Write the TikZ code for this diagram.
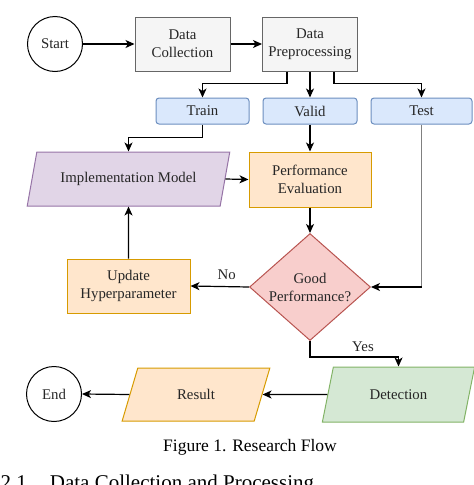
\documentclass[tikz,border=0pt]{standalone}
\usepackage[dvipsnames]{xcolor}
\usepackage{tikz,amsmath}
\usepackage{fontspec}
\setmainfont{Liberation Serif}
\usetikzlibrary{shapes,calc,positioning,arrows,arrows.meta}

% Box colours
\definecolor{GrayFill}{HTML}{F5F5F5}
\definecolor{GrayLine}{HTML}{666666}
\definecolor{BlueFill}{HTML}{DAE8FC}
\definecolor{BlueLine}{HTML}{6C8EBF}
\definecolor{OrangeFill}{HTML}{FFE6CC}
\definecolor{OrangeLine}{HTML}{D79B00}
\definecolor{PurpleFill}{HTML}{E1D5E7}
\definecolor{PurpleLine}{HTML}{9673A6}
\definecolor{RedFill}{HTML}{F8CECC}
\definecolor{RedLine}{HTML}{B85450}
\definecolor{GreenFill}{HTML}{D5E8D4}
\definecolor{GreenLine}{HTML}{82B366}

\tikzset{
  txt/.style={font=\fontsize{14.8}{18}\selectfont,align=center,text=black!85},
  terminal/.style={txt,circle,draw,line width=1pt,minimum size=55pt,inner sep=0pt},
  stepbox/.style={txt,rectangle,draw,line width=1pt,inner sep=0pt},
  splitbox/.style={stepbox,rounded corners=3pt,fill=BlueFill,draw=BlueLine,minimum height=26pt},
  iobox/.style={txt,trapezium,draw,line width=1pt,trapezium stretches=true,inner sep=0pt},
  arr/.style={line width=1.2pt,->},
}

\begin{document}
\begin{tikzpicture}[x=1pt,y=-1pt,>={Stealth[length=9pt,width=8pt,inset=2.5pt]}]
\useasboundingbox (0,0) rectangle (474,485);

% Top row
\node[terminal] (start) at (55,44) {Start};
\node[stepbox,fill=GrayFill,draw=GrayLine,minimum width=95pt,minimum height=54pt] (collect) at (182.5,44) {Data\\Collection};
\node[stepbox,fill=GrayFill,draw=GrayLine,minimum width=95pt,minimum height=54pt] (prep) at (310,44) {Data\\Preprocessing};

% Data split
\node[splitbox,minimum width=93pt] (train) at (202.5,111) {Train};
\node[splitbox,minimum width=94pt] (valid) at (310,111) {Valid};
\node[splitbox,minimum width=101pt] (test) at (421.5,111) {Test};

% Training loop
\node[iobox,fill=PurpleFill,draw=PurpleLine,trapezium left angle=62,trapezium right angle=118,minimum width=203pt,minimum height=54pt] (impl) at (128.5,179) {Implementation Model};
\node[stepbox,fill=OrangeFill,draw=OrangeLine,minimum width=122pt,minimum height=55pt] (perf) at (310,179.5) {Performance\\Evaluation};
\node[txt,diamond,draw,line width=1pt,fill=RedFill,draw=RedLine,inner sep=0pt,shape aspect=1.13,minimum width=121pt,minimum height=107pt] (good) at (310,287) {Good\\Performance?};
\node[stepbox,fill=OrangeFill,draw=OrangeLine,minimum width=123pt,minimum height=54pt] (update) at (128.5,286) {Update\\Hyperparameter};

% Bottom row
\node[iobox,fill=GreenFill,draw=GreenLine,trapezium left angle=64,trapezium right angle=116,minimum width=153pt,minimum height=55pt] (detect) at (398.5,394.5) {Detection};
\node[iobox,fill=OrangeFill,draw=OrangeLine,trapezium left angle=64,trapezium right angle=116,minimum width=148pt,minimum height=53pt] (result) at (196,394.5) {Result};
\node[terminal] (end) at (54,394) {End};

% Connectors
\draw[arr] (start) -- (collect);
\draw[arr] (collect) -- (prep);
\draw[arr] ([xshift=-23pt]prep.south) -- ++(0,12) -| (train.north);
\draw[arr] (prep.south) -- (valid.north);
\draw[arr] ([xshift=24pt]prep.south) -- ++(0,12) -| (test.north);
\draw[arr] (train.south) -- ++(0,13) -| (impl.north);
\draw[arr] (valid) -- (perf);
\draw[arr] (impl.east) -- (perf.west);
\draw[arr] (perf) -- (good);
\draw[line width=1.2pt,gray] (test.south) -- (test.south |- good.east) coordinate (bend);
\draw[arr] (bend) -- (good.east);
\draw[arr] (good.west) -- (update.east) node[txt,pos=0.38,above=3pt] (no) {No};
\draw[arr] (update) -- (impl.south);
\draw[arr] (good.south) -- ++(0,16) coordinate (turn) -| (detect.north);
\node[txt,above=2pt] (yes) at ($(turn)+(53,0)$) {Yes};
\draw[arr] (detect.west) -- (result.east);
\draw[arr] (result.west) -- (end.east);

% Caption
\node[font=\fontsize{17.5}{20}\selectfont] (caption) at (250,447) {Figure 1. Research Flow};
\begin{scope}
\clip (0,0) rectangle (474,485);
\node[font=\fontsize{21}{24}\selectfont,anchor=north west] (heading) at (-3,471) {2.1\hspace{1.1em}Data Collection and Processing};
\end{scope}
\end{tikzpicture}
\end{document}
